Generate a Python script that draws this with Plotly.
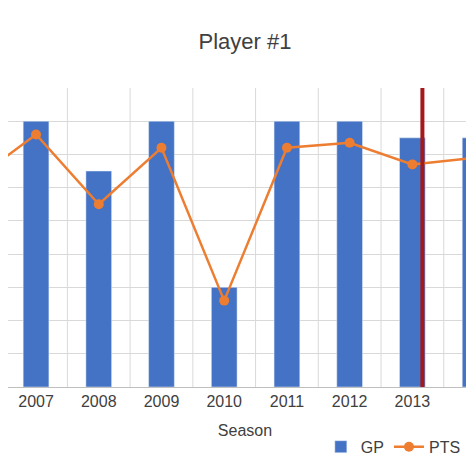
import plotly.graph_objects as go

seasons = ["2006", "2007", "2008", "2009", "2010", "2011", "2012", "2013", "2014", "2015"]
gp = [8.0, 8.0, 6.5, 8.0, 3.0, 8.0, 8.0, 7.5, 7.5, 8.0]
pts = [6.2, 7.6, 5.5, 7.2, 2.6, 7.2, 7.35, 6.7, 6.9, 5.5]
xi = list(range(len(seasons)))

fig = go.Figure()
fig.add_trace(go.Bar(x=xi, y=gp, name="GP", marker_color="#4472C4", width=0.41))
fig.add_trace(go.Scatter(x=xi, y=pts, name="PTS", mode="lines+markers",
                         line=dict(color="#ED7D31", width=2.5),
                         marker=dict(size=10, color="#ED7D31")))
fig.add_shape(type="line", x0=7.16, x1=7.16, y0=0, y1=9.05, xref="x", yref="y",
              line=dict(color="#A5191B", width=4))
for k in range(10):
    fig.add_shape(type="line", x0=k + 0.5, x1=k + 0.5, y0=0, y1=9, xref="x", yref="y",
                  line=dict(color="#D9D9D9", width=1), layer="below")

fig.update_layout(
    width=474, height=474, margin=dict(l=0, r=0, t=80, b=95, autoexpand=False),
    plot_bgcolor="white", paper_bgcolor="white",
    title=dict(text="Player #1", x=0.5, y=0.945, xanchor="center",
               font=dict(family="Liberation Sans", size=22, color="#404040")),
    font=dict(family="Liberation Sans", size=16, color="#404040"),
    xaxis=dict(range=[0.553, 8.11], tickvals=xi, ticktext=seasons, showgrid=False,
               showline=True, linecolor="#BFBFBF", ticks="",
               title=dict(text="Season", font=dict(size=16)), zeroline=False),
    yaxis=dict(range=[0, 9], dtick=1, showticklabels=False, gridcolor="#D9D9D9",
               zeroline=False),
    legend=dict(orientation="h", x=0.66, y=-0.2, yanchor="middle", xanchor="left",
                font=dict(size=16)),
    showlegend=True,
)
fig.write_html("out.html")
